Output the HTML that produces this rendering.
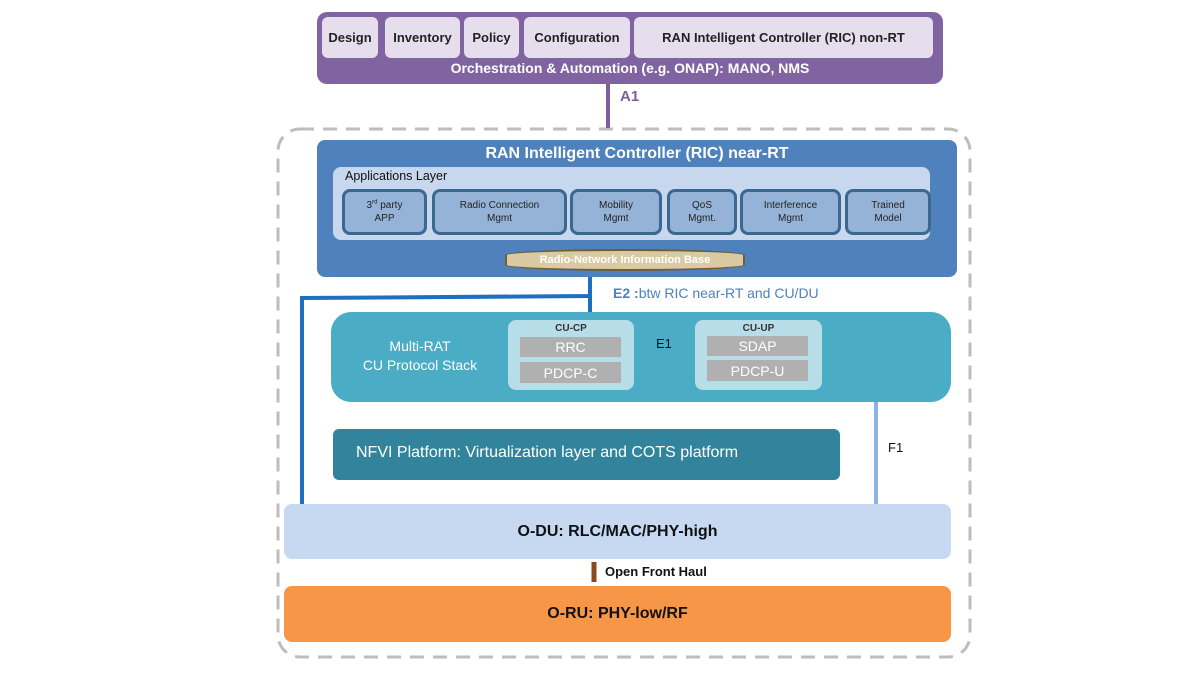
<!DOCTYPE html>
<html><head><meta charset="utf-8">
<style>
body{margin:0;width:1200px;height:675px;background:#fff;position:relative;overflow:hidden;font-family:"Liberation Sans",sans-serif;}
.a{position:absolute;box-sizing:border-box;}
.c{display:flex;align-items:center;justify-content:center;text-align:center;}
.ib{background:#e6deed;border-radius:6px;font-weight:bold;font-size:13px;color:#222;}
.app{background:#95b3d7;border:3px solid #3c6791;border-radius:8px;font-size:10px;color:#222;line-height:13px;}
.g{background:#b0b0b0;color:#fff;font-size:14px;}
</style></head><body>
<svg class="a" style="left:0;top:0" width="1200" height="675">
<rect x="278" y="129" width="692" height="528" rx="22" fill="none" stroke="#bdbdbd" stroke-width="3" stroke-dasharray="14,9"/>
<line x1="608" y1="84" x2="608" y2="128" stroke="#7e5f9e" stroke-width="4"/>
<polyline points="590,277 590,296 302,298 302,504" fill="none" stroke="#1f6fc0" stroke-width="4"/>
<line x1="590" y1="296" x2="590" y2="313" stroke="#1f6fc0" stroke-width="4"/>
<line x1="876" y1="402" x2="876" y2="504" stroke="#8db3e2" stroke-width="4"/>
<line x1="621" y1="359" x2="695" y2="360" stroke="#1f6fc0" stroke-width="4"/>
<line x1="594" y1="562" x2="594" y2="582" stroke="#8b4a1e" stroke-width="5"/>
</svg>
<div class="a" style="left:317px;top:12px;width:626px;height:72px;background:#8064a2;border-radius:10px;"></div>
<div class="a ib c" style="left:322px;top:17px;width:56px;height:41px">Design</div>
<div class="a ib c" style="left:385px;top:17px;width:75px;height:41px">Inventory</div>
<div class="a ib c" style="left:464px;top:17px;width:55px;height:41px">Policy</div>
<div class="a ib c" style="left:524px;top:17px;width:106px;height:41px">Configuration</div>
<div class="a ib c" style="left:634px;top:17px;width:299px;height:41px">RAN Intelligent Controller (RIC) non-RT</div>
<div class="a c" style="left:317px;top:58px;width:626px;height:20px;color:#fff;font-weight:bold;font-size:14px">Orchestration &amp; Automation (e.g. ONAP): MANO, NMS</div>
<div class="a" style="left:620px;top:88px;color:#7e5f9e;font-weight:bold;font-size:15px">A1</div>

<div class="a" style="left:317px;top:140px;width:640px;height:137px;background:#4f81bd;border-radius:8px"></div>
<div class="a c" style="left:317px;top:143px;width:640px;height:22px;color:#fff;font-weight:bold;font-size:16px">RAN Intelligent Controller (RIC) near-RT</div>
<div class="a" style="left:333px;top:167px;width:597px;height:73px;background:#c6d7ee;border-radius:8px"></div>
<div class="a" style="left:345px;top:169px;font-size:12.5px;color:#111">Applications Layer</div>
<div class="a app c" style="left:342px;top:189px;width:85px;height:46px"><div><span style="white-space:nowrap">3<sup style="font-size:6px;line-height:0">rd</sup> party</span><br>APP</div></div>
<div class="a app c" style="left:432px;top:189px;width:135px;height:46px">Radio Connection<br>Mgmt</div>
<div class="a app c" style="left:570px;top:189px;width:92px;height:46px">Mobility<br>Mgmt</div>
<div class="a app c" style="left:667px;top:189px;width:70px;height:46px">QoS<br>Mgmt.</div>
<div class="a app c" style="left:740px;top:189px;width:101px;height:46px">Interference<br>Mgmt</div>
<div class="a app c" style="left:845px;top:189px;width:86px;height:46px">Trained<br>Model</div>
<div class="a c" style="left:505px;top:249px;width:240px;height:22px;background:#d9caa3;border:2px solid #6e5e3c;border-radius:120px/6px;color:#fff;font-weight:bold;font-size:11px">Radio-Network Information Base</div>
<div class="a" style="left:613px;top:285px;color:#4f81bd;font-size:14px"><b>E2 :</b>btw RIC near-RT and CU/DU</div>

<div class="a" style="left:331px;top:312px;width:620px;height:90px;background:#4bacc6;border-radius:20px"></div>
<div class="a c" style="left:345px;top:336px;width:150px;height:40px;color:#fff;font-size:14px;line-height:19px">Multi-RAT<br>CU Protocol Stack</div>
<div class="a" style="left:508px;top:320px;width:126px;height:70px;background:#b7dde8;border-radius:8px"></div>
<div class="a c" style="left:508px;top:321px;width:126px;height:14px;font-size:10px;font-weight:bold;color:#333">CU-CP</div>
<div class="a g c" style="left:520px;top:337px;width:101px;height:20px">RRC</div>
<div class="a g c" style="left:520px;top:362px;width:101px;height:21px">PDCP-C</div>
<div class="a" style="left:695px;top:320px;width:127px;height:70px;background:#b7dde8;border-radius:8px"></div>
<div class="a c" style="left:695px;top:321px;width:127px;height:14px;font-size:10px;font-weight:bold;color:#333">CU-UP</div>
<div class="a g c" style="left:707px;top:336px;width:101px;height:20px">SDAP</div>
<div class="a g c" style="left:707px;top:360px;width:101px;height:21px">PDCP-U</div>
<div class="a" style="left:656px;top:336px;font-size:13px;color:#111">E1</div>

<div class="a" style="left:333px;top:429px;width:507px;height:51px;background:#31849b;border-radius:6px"></div>
<div class="a" style="left:356px;top:444px;color:#fff;font-size:16px">NFVI Platform: Virtualization layer and COTS platform</div>
<div class="a" style="left:888px;top:440px;font-size:13px;color:#111">F1</div>

<div class="a c" style="left:284px;top:504px;width:667px;height:55px;background:#c6d9f1;border-radius:8px;font-weight:bold;font-size:16px;color:#111">O-DU: RLC/MAC/PHY-high</div>
<div class="a" style="left:605px;top:564px;font-weight:bold;font-size:13px;color:#111">Open Front Haul</div>
<div class="a c" style="left:284px;top:586px;width:667px;height:56px;background:#f79646;border-radius:8px;font-weight:bold;font-size:16px;color:#111">O-RU: PHY-low/RF</div>
</body></html>
